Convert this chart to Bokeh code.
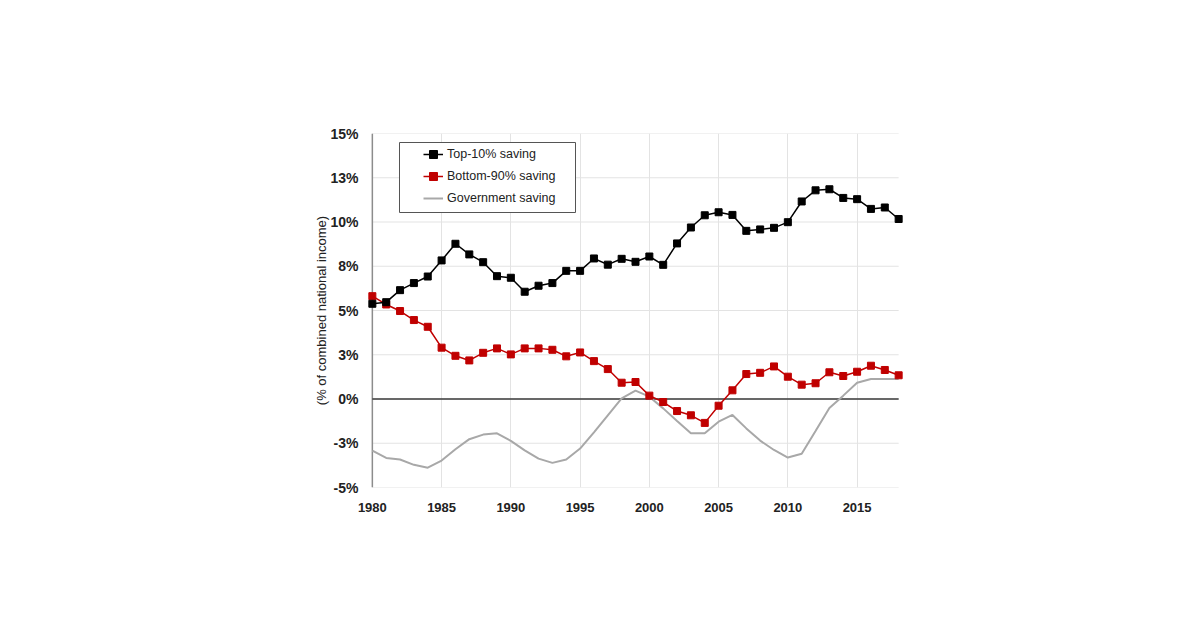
from bokeh.plotting import figure
from bokeh.models import Range1d, FixedTicker, Legend, LegendItem, BoxAnnotation
from bokeh.embed import file_html
from bokeh.resources import INLINE

years = list(range(1980, 2019))
top10 = [5.38, 5.47, 6.15, 6.55, 6.92, 7.83, 8.77, 8.17, 7.73, 6.94,
         6.85, 6.06, 6.40, 6.55, 7.24, 7.24, 7.94, 7.59, 7.92, 7.75,
         8.05, 7.58, 8.79, 9.69, 10.38, 10.55, 10.40, 9.50, 9.58, 9.67,
         9.99, 11.16, 11.79, 11.85, 11.36, 11.29, 10.74, 10.82, 10.17]
bottom90 = [5.81, 5.34, 4.97, 4.46, 4.08, 2.90, 2.44, 2.18, 2.61, 2.86,
            2.52, 2.86, 2.86, 2.78, 2.41, 2.63, 2.14, 1.69, 0.92, 0.96,
            0.19, -0.17, -0.68, -0.92, -1.35, -0.38, 0.49, 1.41, 1.48, 1.84,
            1.26, 0.81, 0.89, 1.51, 1.30, 1.54, 1.88, 1.64, 1.34]
government = [-2.92, -3.33, -3.42, -3.72, -3.88, -3.48, -2.84, -2.27, -2.01, -1.94,
              -2.37, -2.90, -3.37, -3.61, -3.42, -2.80, -1.88, -0.92, 0.04, 0.47,
              0.13, -0.53, -1.24, -1.94, -1.94, -1.28, -0.90, -1.66, -2.35, -2.88,
              -3.31, -3.09, -1.81, -0.51, 0.19, 0.92, 1.13, 1.13, 1.13]
y_ticks = [-5, -2.5, 0, 2.5, 5, 7.5, 10, 12.5, 15]
y_tick_labels = ["-5%", "-3%", "0%", "3%", "5%", "8%", "10%", "13%", "15%"]
x_ticks = [1980, 1985, 1990, 1995, 2000, 2005, 2010, 2015]
series_names = ["Top-10% saving", "Bottom-90% saving", "Government saving"]

FONT = "Liberation Sans"
PAD = 0.35  # small padding so the end markers are not clipped

x0, x1 = years[0], years[-1]
px_per_year = 526.0 / (x1 - x0)
frame_w = px_per_year * (x1 - x0 + 2 * PAD)
left = int(round(372 - PAD * px_per_year))
right = int(round(1200 - left - frame_w))

p = figure(width=1200, height=630, output_backend="svg", toolbar_location=None,
           x_range=Range1d(x0 - PAD, x1 + PAD), y_range=Range1d(-5, 15),
           min_border_left=left, min_border_right=right, min_border_top=133,
           min_border_bottom=143)
p.outline_line_color = None
p.background_fill_color = "white"
p.border_fill_color = "white"

# grid
p.ygrid.grid_line_color = None
p.xgrid.ticker = FixedTicker(ticks=x_ticks)
p.xgrid.grid_line_color = "#e3e3e3"
p.xgrid.grid_line_width = 1
p.segment(x0=[x0] * len(y_ticks), x1=[x1] * len(y_ticks), y0=y_ticks, y1=y_ticks,
          line_color="#e3e3e3", line_width=1)

p.xaxis.ticker = FixedTicker(ticks=x_ticks)
p.xaxis.axis_line_color = None
p.xaxis.major_tick_line_color = None
p.xaxis.minor_tick_line_color = None
p.xaxis.major_label_text_font = FONT
p.xaxis.major_label_text_font_style = "bold"
p.xaxis.major_label_text_font_size = "13px"
p.xaxis.major_label_text_color = "#222222"
p.xaxis.major_label_standoff = 9

p.yaxis.ticker = FixedTicker(ticks=y_ticks)
p.yaxis.major_label_overrides = {t: l for t, l in zip(y_ticks, y_tick_labels)}
p.yaxis.axis_line_color = None
p.yaxis.major_tick_line_color = None
p.yaxis.minor_tick_line_color = None
p.yaxis.major_label_text_font = FONT
p.yaxis.major_label_text_font_style = "bold"
p.yaxis.major_label_text_font_size = "14px"
p.yaxis.major_label_text_color = "#222222"
p.yaxis.major_label_standoff = 3
p.yaxis.axis_label = "(% of combined national income)"
p.yaxis.axis_label_text_font = FONT
p.yaxis.axis_label_text_font_style = "normal"
p.yaxis.axis_label_text_font_size = "13px"
p.yaxis.axis_label_text_color = "#222222"
p.yaxis.axis_label_standoff = -2

# left axis line at the first year and zero line
p.segment(x0=[x0], x1=[x0], y0=[y_ticks[0]], y1=[y_ticks[-1]],
          line_color="#8c8c8c", line_width=1.5)
p.segment(x0=[x0], x1=[x1], y0=[0], y1=[0], line_color="#3a3a3a", line_width=1.5)

g = p.line(years, government, line_color="#a8a8a8", line_width=2)
rl = p.line(years, bottom90, line_color="#c00000", line_width=1.5)
rs = p.scatter(years, bottom90, marker="square", size=7, fill_color="#c00000", line_color="#c00000")
bl = p.line(years, top10, line_color="#000000", line_width=1.5)
bs = p.scatter(years, top10, marker="square", size=7, fill_color="#000000", line_color="#000000")

# legend frame (wider horizontal padding than vertical, as in the original)
box = BoxAnnotation(left=399, right=575, top=142, bottom=212,
                    left_units="canvas", right_units="canvas",
                    top_units="canvas", bottom_units="canvas",
                    fill_color="white", fill_alpha=1,
                    line_color="#555555", line_width=1, line_alpha=1)
p.add_layout(box)

legend = Legend(items=[LegendItem(label=series_names[0], renderers=[bl, bs]),
                       LegendItem(label=series_names[1], renderers=[rl, rs]),
                       LegendItem(label=series_names[2], renderers=[g])],
                location=(423 - left, 487 - 208), orientation="vertical")
legend.label_text_font = FONT
legend.label_text_font_size = "12.5px"
legend.label_text_color = "#222222"
legend.border_line_color = None
legend.background_fill_alpha = 0
legend.glyph_width = 20
legend.glyph_height = 20
legend.label_height = 20
legend.spacing = 2
legend.padding = 0
legend.margin = 0
legend.label_standoff = 4
p.add_layout(legend, "center")

open("out.html", "w").write(file_html(p, INLINE))
